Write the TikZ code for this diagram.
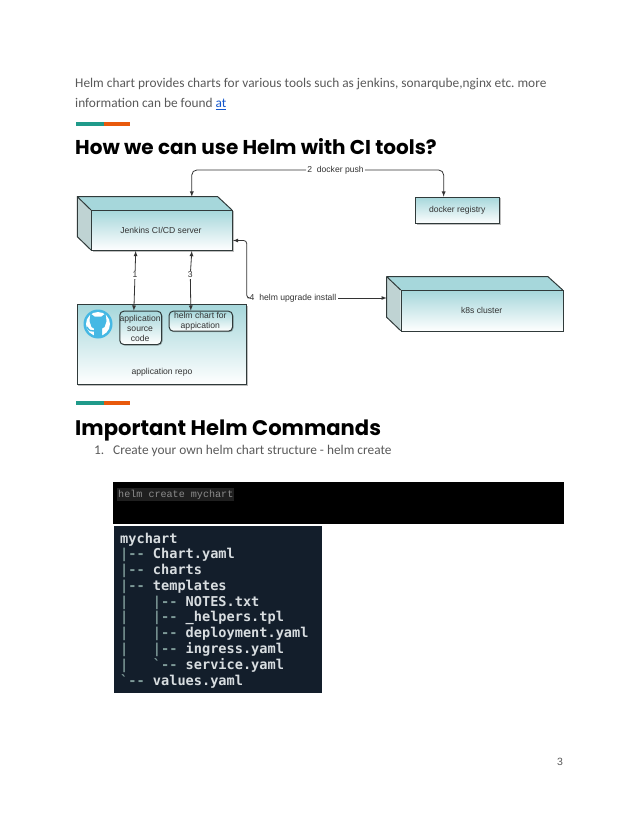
\documentclass[tikz,border=0pt]{standalone}
\usepackage{fontspec}
\setmainfont{Carlito}
\newfontfamily\headfont{Poppins}
\newfontfamily\diagfont{Liberation Sans}
\newfontfamily\treefont{DejaVu Sans Mono}
\newfontfamily\cmdfont{Liberation Mono}
\usetikzlibrary{arrows}
\usetikzlibrary{shadows}
\definecolor{bodygrey}{HTML}{595959}
\definecolor{barteal}{HTML}{1F9A8A}
\definecolor{barorange}{HTML}{E8590C}
\definecolor{linkblue}{HTML}{1155CC}
\definecolor{boxline}{HTML}{303A3A}
\definecolor{boxteal}{HTML}{A6D7DB}
\definecolor{sideteal}{HTML}{BFD3D3}
\definecolor{treebg}{HTML}{131E2B}
\definecolor{treetext}{HTML}{D8DDE0}
\definecolor{treedim}{HTML}{7E9A98}
\definecolor{octo}{HTML}{45B8E4}
\newcommand{\trk}[1]{\textcolor{treedim}{#1}}
\tikzset{
	bodytext/.style={anchor=base west, inner sep=0pt, text=bodygrey, font=\frenchspacing\fontsize{13.35}{16}\selectfont},
	headtext/.style={anchor=base west, inner sep=0pt, text=black, font=\headfont\bfseries\fontsize{#1}{26}\selectfont},
	difflabel/.style={inner sep=1pt, text=black!80, font=\diagfont\fontsize{8.6}{10}\selectfont, align=center},
	tealbox/.style={draw=boxline, line width=1pt, top color=boxteal, bottom color=white, anchor=north west, minimum width=#1, inner sep=0pt, general shadow={shadow xshift=1pt, shadow yshift=-1pt, fill=black, opacity=0.25}},
	roundbox/.style={tealbox=#1, rounded corners=4pt},
	conn/.style={draw=black!80, line width=0.8pt, >=latex},
	treeline/.style={anchor=west, inner sep=0pt, text=treetext, font=\treefont\bfseries\fontsize{13.6}{15}\selectfont},
}

\begin{document}
\begin{tikzpicture}[x=1pt, y=-1pt]
	\useasboundingbox (0,0) rectangle (638,826);
	\node[bodytext] (line1) at (75,87.3) {Helm chart provides charts for various tools such as jenkins, sonarqube,nginx etc. more};
	\node[bodytext] (line2) at (75,107.3) {information can be found \textcolor{linkblue}{\underline{at}}};
	\fill[barteal] (76,122) rectangle (104,126);
	\fill[barorange] (104,122) rectangle (130,126);
	\node[headtext=20] (head1) at (75,154.7) {How we can use Helm with CI tools?};

	% jenkins box
	\fill[boxteal] (77.3,196.7) -- (217.7,196.7) -- (232,210) -- (91,210) -- cycle;
	\fill[sideteal] (77.3,196.7) -- (91,210) -- (91,250) -- (77.3,236.7) -- cycle;
	\draw[boxline, line width=1pt, line join=round] (91,210) -- (77.3,196.7) -- (217.7,196.7) -- (232,210);
	\draw[boxline, line width=1pt] (77.3,196.7) -- (77.3,236.7) -- (91,250);
	\node[tealbox=141pt, minimum height=40pt] (jenkins) at (91,210) {};
	\node[difflabel] (jenkinslbl) at (161,230) {Jenkins CI/CD server};

	% registry
	\node[tealbox=84.3pt, minimum height=26.6pt] (registry) at (415,196.7) {};
	\node[difflabel] (registrylbl) at (457.2,210) {docker registry};

	% k8s box
	\fill[boxteal] (386.7,276.7) -- (548,276.7) -- (562.7,290) -- (400.7,290) -- cycle;
	\fill[sideteal] (386.7,276.7) -- (400.7,290) -- (400.7,330.7) -- (386.7,317.3) -- cycle;
	\draw[boxline, line width=1pt, line join=round] (400.7,290) -- (386.7,276.7) -- (548,276.7) -- (562.7,290);
	\draw[boxline, line width=1pt] (386.7,276.7) -- (386.7,317.3) -- (400.7,330.7);
	\node[tealbox=162pt, minimum height=40.7pt] (k8s) at (400.7,290) {};
	\node[difflabel] (k8slbl) at (481.7,310.5) {k8s cluster};

	% repo
	\node[tealbox=169.3pt, minimum height=80pt] (repo) at (76.7,304) {};
	\node[difflabel] (repolbl) at (162,372) {application repo};
	\node[roundbox=41.7pt, minimum height=33.3pt] (appsrc) at (119.3,310.7) {};
	\node[difflabel] (appsrclbl) at (140.1,328) {application\\source\\code};
	\node[roundbox=63.3pt, minimum height=20pt] (chartbox) at (168.7,310.7) {};
	\node[difflabel] (chartlbl) at (200.3,321.7) {helm chart for\\appication};

	% logo
	\fill[octo] (98,324) circle[radius=14.5];
	\fill[white] (98,324) circle[radius=12];
	\fill[octo] (90.5,313.5) -- (94.5,316.5) -- (101.5,316.5) -- (105.5,313.5) -- (106.5,321) -- (104.5,327) -- (102,328.5) -- (102,337) -- (94,337) -- (94,328.5) -- (91.5,327) -- (89.5,321) -- cycle;
	\draw[octo, line width=1.4pt] (87,327) .. controls (89,331) and (91,331) .. (94,331);

	% connectors
	\node[difflabel, fill=white] (one) at (135,275) {1};
	\node[difflabel, fill=white] (three) at (190.3,275) {3};
	\node[difflabel, fill=white] (push) at (335.5,170) {2\ \ docker push};
	\node[difflabel, fill=white, inner sep=2pt] (upgrade) at (293,298) {4\ \ helm upgrade install};
	\draw[conn,<-] ([xshift=-26.3pt]jenkins.south) -- (one);
	\draw[conn,->] (one) -- ([xshift=-6.8pt]appsrc.north);
	\draw[conn,<-] ([xshift=29.8pt]jenkins.south) -- (three);
	\draw[conn,->] (three) -- ([xshift=-10pt]chartbox.north);
	\draw[conn,->, rounded corners=5pt] (push.west) -| ([xshift=29.8pt,yshift=13.3pt]jenkins.north);
	\draw[conn,->, rounded corners=5pt] (push.east) -| ([xshift=-14pt]registry.north);
	\draw[conn,->, rounded corners=3pt] (upgrade.west) -- (246.7,298) |- ([yshift=-10pt]jenkins.east);
	\draw[conn,->] (upgrade.east) -- ([xshift=-14pt]k8s.west |- upgrade.east);

	\fill[barteal] (76,401) rectangle (104,405);
	\fill[barorange] (104,401) rectangle (130,405);
	\node[headtext=21.1] (head2) at (75,435) {Important Helm Commands};
	\node[bodytext] (num) at (94,454.5) {1.};
	\node[bodytext] (item) at (113,454.5) {Create your own helm chart structure - helm create};

	% terminal boxes
	\fill[black] (112.5,481.7) rectangle (564,523.5);
	\fill[black!88] (117,488) rectangle (234,501);
	\node[treeline, text=black!45, font=\cmdfont\fontsize{10.1}{11}\selectfont] (cmd) at (118,494.5) {helm create mychart};
	\fill[treebg] (114.3,525.7) rectangle (321.5,692.5);
	\foreach \txt [count=\i from 0] in {mychart,
		\trk{|--} Chart.yaml,
		\trk{|--} charts,
		\trk{|--} templates,
		\trk{|\ \ \ |--} NOTES.txt,
		\trk{|\ \ \ |--} \_helpers.tpl,
		\trk{|\ \ \ |--} deployment.yaml,
		\trk{|\ \ \ |--} ingress.yaml,
		\trk{|\ \ \ `--} service.yaml,
		\trk{`--} values.yaml}
		\node[treeline] (tree\i) at (120,539.3+15.8*\i) {\txt};

	\node[anchor=center, inner sep=0pt, text=bodygrey, font=\diagfont\fontsize{10.5}{12}\selectfont] (pagenum) at (560,762) {3};
\end{tikzpicture}
\end{document}
